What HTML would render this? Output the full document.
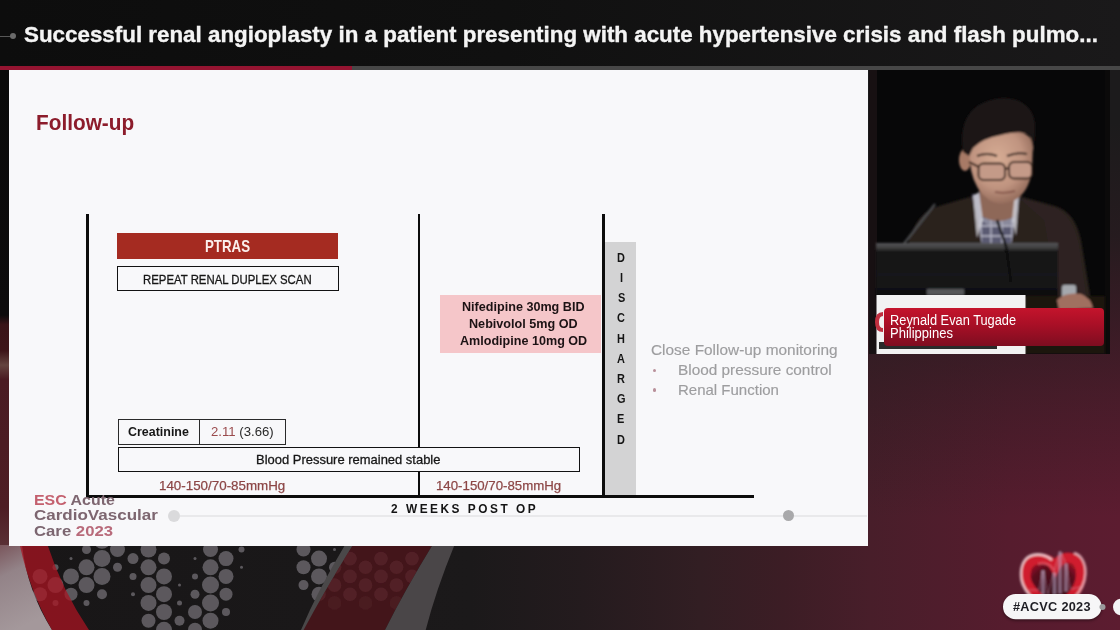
<!DOCTYPE html>
<html><head><meta charset="utf-8">
<style>
*{margin:0;padding:0;box-sizing:border-box}
html,body{width:1120px;height:630px;overflow:hidden;background:#1b1a1b;font-family:"Liberation Sans",sans-serif}
.a{position:absolute}
.t{position:absolute;white-space:nowrap;transform-origin:0 0;font-family:"Liberation Sans",sans-serif}
#top{left:0;top:0;width:1120px;height:66px;background:linear-gradient(90deg,#0d0d0d 0%,#101010 45%,#1a191a 100%)}
#prog{left:0;top:66px;width:1120px;height:4px;background:#474747}
#progr{left:0;top:66px;width:352px;height:4px;background:#951431}
#slide{left:8.8px;top:70px;width:858.8px;height:475.8px;background:#f8f8fa}
.vl{position:absolute;width:2.6px;background:#0c0c0c}
</style></head>
<body>
<svg class="a" style="left:0;top:0" width="1120" height="630" viewBox="0 0 1120 630">
 <defs>
  <linearGradient id="gh" x1="0" y1="0" x2="1" y2="0">
   <stop offset="0" stop-color="#181617"/><stop offset="0.42" stop-color="#1b191a"/>
   <stop offset="0.52" stop-color="#241b1e"/><stop offset="0.625" stop-color="#321e23"/><stop offset="0.7" stop-color="#3c1d25"/>
   <stop offset="0.777" stop-color="#481e2a"/><stop offset="0.9" stop-color="#561c2e"/><stop offset="1" stop-color="#5c1c30"/>
  </linearGradient>
  <linearGradient id="gv" x1="0" y1="0" x2="0" y2="1">
   <stop offset="0.1" stop-color="#1c1b1c" stop-opacity="1"/><stop offset="0.3" stop-color="#1c1b1c" stop-opacity="0.85"/>
   <stop offset="0.58" stop-color="#1c1b1c" stop-opacity="0.32"/><stop offset="0.8" stop-color="#1c1b1c" stop-opacity="0"/>
  </linearGradient>
  <linearGradient id="gl" x1="0" y1="0" x2="0" y2="1">
   <stop offset="0" stop-color="#0a0a0a"/><stop offset="0.515" stop-color="#0d0b0c"/><stop offset="0.535" stop-color="#3a1418"/>
   <stop offset="0.59" stop-color="#3e1519"/><stop offset="0.62" stop-color="#64443f"/><stop offset="0.65" stop-color="#4a1b22"/>
   <stop offset="0.92" stop-color="#4e1d24"/><stop offset="1" stop-color="#5a3035"/>
  </linearGradient>
  <linearGradient id="glight" x1="0" y1="0" x2="0.3" y2="1">
   <stop offset="0" stop-color="#7a565c"/><stop offset="0.35" stop-color="#938388"/><stop offset="1" stop-color="#a4989b"/>
  </linearGradient>
  <filter id="bl" x="-10%" y="-10%" width="120%" height="120%"><feGaussianBlur stdDeviation="0.6"/></filter>
  <clipPath id="band2"><path d="M352.8 545 L432.5 545 Q405 590 385 630 L303.6 630 Q325 590 352.8 545Z"/></clipPath>
 </defs>
 <rect x="0" y="66" width="1120" height="564" fill="url(#gh)"/>
 <rect x="440" y="66" width="680" height="564" fill="url(#gv)"/>
 <rect x="0" y="70" width="10" height="476" fill="url(#gl)"/>
 <!-- bottom left light area -->
 
 <g fill="#5b595d" filter="url(#bl)"><circle cx="40.0" cy="576.4" r="7.5"/><circle cx="40.0" cy="594.2" r="7"/><circle cx="55.5" cy="567.3" r="3"/><circle cx="55.5" cy="585.1" r="8"/><circle cx="55.5" cy="602.9" r="3"/><circle cx="71.0" cy="558.6" r="1.5"/><circle cx="71.0" cy="576.4" r="8"/><circle cx="71.0" cy="594.2" r="6.5"/><circle cx="86.5" cy="549.5" r="4.5"/><circle cx="86.5" cy="567.3" r="8"/><circle cx="86.5" cy="585.1" r="8"/><circle cx="86.5" cy="602.9" r="3"/><circle cx="102.0" cy="540.8" r="8"/><circle cx="102.0" cy="558.6" r="8.5"/><circle cx="102.0" cy="576.4" r="8.5"/><circle cx="102.0" cy="594.2" r="5"/><circle cx="117.5" cy="549.5" r="7.5"/><circle cx="117.5" cy="567.3" r="4.5"/><circle cx="133.0" cy="558.6" r="5.5"/><circle cx="133.0" cy="576.4" r="3.5"/><circle cx="133.0" cy="594.2" r="2"/><circle cx="148.5" cy="549.5" r="8"/><circle cx="148.5" cy="567.3" r="8"/><circle cx="148.5" cy="585.1" r="8"/><circle cx="148.5" cy="602.9" r="8"/><circle cx="148.5" cy="620.7" r="7"/><circle cx="164.0" cy="558.6" r="6"/><circle cx="164.0" cy="576.4" r="8"/><circle cx="164.0" cy="594.2" r="8"/><circle cx="164.0" cy="612.0" r="8"/><circle cx="164.0" cy="629.8" r="8"/><circle cx="179.5" cy="585.1" r="1.5"/><circle cx="179.5" cy="602.9" r="2.5"/><circle cx="179.5" cy="620.7" r="5"/><circle cx="195.0" cy="558.6" r="1.5"/><circle cx="195.0" cy="576.4" r="3"/><circle cx="195.0" cy="594.2" r="4.5"/><circle cx="195.0" cy="612.0" r="7"/><circle cx="195.0" cy="629.8" r="7"/><circle cx="210.5" cy="549.5" r="7.5"/><circle cx="210.5" cy="567.3" r="8"/><circle cx="210.5" cy="585.1" r="8.5"/><circle cx="210.5" cy="602.9" r="8.5"/><circle cx="210.5" cy="620.7" r="8"/><circle cx="226.0" cy="558.6" r="7.5"/><circle cx="226.0" cy="576.4" r="7.5"/><circle cx="226.0" cy="594.2" r="6.5"/><circle cx="226.0" cy="612.0" r="4"/><circle cx="241.5" cy="549.5" r="3"/><circle cx="241.5" cy="567.3" r="1.5"/><circle cx="303.5" cy="549.5" r="7"/><circle cx="303.5" cy="567.3" r="7"/><circle cx="303.5" cy="585.1" r="5"/><circle cx="319.0" cy="558.6" r="8"/><circle cx="319.0" cy="576.4" r="8"/><circle cx="319.0" cy="594.2" r="7.5"/><circle cx="334.5" cy="549.5" r="1.5"/><circle cx="334.5" cy="567.3" r="5.5"/><circle cx="334.5" cy="585.1" r="5.5"/></g>
 <path d="M0 545 L22 545 Q27 590 52 630 L0 630Z" fill="url(#glight)"/>
 <path d="M19.8 545 L47.6 545 Q62 590 89 630 L52 630 Q30 592 19.8 545Z" fill="#a81422" fill-opacity="0.75"/>
 <!-- band 2 -->
 <path d="M345 545 L356 545 Q327 590 305 630 L301 630 Q318 590 345 545Z" fill="#4a4849"/>
 <path d="M352.8 545 L432.5 545 Q405 590 385 630 L303.6 630 Q325 590 352.8 545Z" fill="#43151a"/>
 <g fill="#5e2a32" clip-path="url(#band2)" filter="url(#bl)"><circle cx="319.0" cy="558.6" r="6.8" fill-opacity="0.55"/><circle cx="319.0" cy="576.4" r="6.8" fill-opacity="0.55"/><circle cx="319.0" cy="594.2" r="6.8" fill-opacity="0.55"/><circle cx="334.5" cy="567.3" r="6.8" fill-opacity="0.55"/><circle cx="334.5" cy="585.1" r="6.8" fill-opacity="0.55"/><circle cx="334.5" cy="602.9" r="6.8" fill-opacity="0.3"/><circle cx="350.0" cy="558.6" r="6.8" fill-opacity="0.55"/><circle cx="350.0" cy="576.4" r="6.8" fill-opacity="0.55"/><circle cx="350.0" cy="594.2" r="6.8" fill-opacity="0.55"/><circle cx="365.5" cy="567.3" r="6.8" fill-opacity="0.55"/><circle cx="365.5" cy="585.1" r="6.8" fill-opacity="0.55"/><circle cx="365.5" cy="602.9" r="6.8" fill-opacity="0.3"/><circle cx="381.0" cy="558.6" r="6.8" fill-opacity="0.55"/><circle cx="381.0" cy="576.4" r="6.8" fill-opacity="0.55"/><circle cx="381.0" cy="594.2" r="6.8" fill-opacity="0.55"/><circle cx="396.5" cy="567.3" r="6.8" fill-opacity="0.55"/><circle cx="396.5" cy="585.1" r="6.8" fill-opacity="0.55"/><circle cx="396.5" cy="602.9" r="6.8" fill-opacity="0.3"/><circle cx="412.0" cy="558.6" r="6.8" fill-opacity="0.55"/><circle cx="412.0" cy="576.4" r="6.8" fill-opacity="0.55"/><circle cx="412.0" cy="594.2" r="6.8" fill-opacity="0.55"/><circle cx="427.5" cy="567.3" r="6.8" fill-opacity="0.55"/><circle cx="427.5" cy="585.1" r="6.8" fill-opacity="0.55"/><circle cx="427.5" cy="602.9" r="6.8" fill-opacity="0.3"/></g>
 <path d="M432.5 545 L454.5 545 Q436 590 425.7 630 L385 630 Q405 590 432.5 545Z" fill="#4a4648"/>
</svg>
<div id="top" class="a"></div>
<div class="a" style="left:0;top:35.8px;width:12px;height:1.1px;background:#575757"></div>
<div class="a" style="left:10.3px;top:32.8px;width:6.2px;height:6.2px;border-radius:50%;background:#6a6a6a"></div>
<div id="prog" class="a"></div>
<div id="progr" class="a"></div>
<div id="slide" class="a"></div>
<!-- slide shapes -->
<div class="vl" style="left:86.2px;top:214px;height:283px"></div>
<div class="vl" style="left:417.7px;top:214px;height:283px"></div>
<div class="vl" style="left:602.2px;top:214px;height:283px"></div>
<div class="a" style="left:86.2px;top:494.8px;width:667.8px;height:3px;background:#0c0c0c"></div>
<div class="a" style="left:117px;top:233.1px;width:221.2px;height:26.2px;background:#a52b21"></div>
<div class="a" style="left:116.5px;top:266.4px;width:222.3px;height:25px;border:1.8px solid #121212;background:#f8f8fa"></div>
<div class="a" style="left:440px;top:295px;width:161.4px;height:57.5px;background:#f5c6c9"></div>
<div class="a" style="left:604.5px;top:241.8px;width:31.8px;height:253.2px;background:#d3d3d4"></div>
<div class="a" style="left:118px;top:418.5px;width:167.6px;height:26.3px;border:1.3px solid #2a2a2a;background:#f8f8fa"></div>
<div class="a" style="left:199px;top:418.5px;width:1.3px;height:26.3px;background:#2a2a2a"></div>
<div class="a" style="left:118px;top:446.8px;width:462px;height:25.6px;border:1.7px solid #121212;background:#f8f8fa"></div>
<div class="a" style="left:652.5px;top:368.8px;width:3.4px;height:3.4px;border-radius:50%;background:#b9909a"></div>
<div class="a" style="left:652.5px;top:388.4px;width:3.4px;height:3.4px;border-radius:50%;background:#b9909a"></div>
<div class="a" style="left:180px;top:515.3px;width:687px;height:1.4px;background:#e9e9eb"></div>
<div class="a" style="left:168px;top:510px;width:12px;height:12px;border-radius:50%;background:#dadadc"></div>
<div class="a" style="left:782.5px;top:510.3px;width:11px;height:11px;border-radius:50%;background:#a9a9ab"></div>
<svg class="a" style="left:869px;top:70px" width="241" height="284" viewBox="0 0 241 284">
 <defs>
  <radialGradient id="face" cx="0.45" cy="0.4" r="0.65">
   <stop offset="0" stop-color="#d6ac94"/><stop offset="0.6" stop-color="#c09480"/><stop offset="1" stop-color="#8e6656"/>
  </radialGradient>
  <linearGradient id="pod" x1="0" y1="0" x2="0" y2="1">
   <stop offset="0" stop-color="#58585a"/><stop offset="0.1" stop-color="#3a3a3b"/><stop offset="0.16" stop-color="#151516"/><stop offset="0.6" stop-color="#19191a"/><stop offset="1" stop-color="#0d0d0e"/>
  </linearGradient>
  <filter id="vb" x="-5%" y="-5%" width="110%" height="110%"><feGaussianBlur stdDeviation="0.9"/></filter>
 </defs>
 <rect width="241" height="284" fill="#070708"/>
 <rect width="8" height="284" fill="#171012"/>
 <rect x="236" width="5" height="284" fill="#0b0a0a"/>
 <g filter="url(#vb)">
 <!-- suit -->
 <path d="M40 170 Q48 142 70 136 L104 126 L150 126 L186 136 Q206 142 212 170 L222 230 L224 284 L30 284 Z" fill="#2a211f"/>
 <path d="M150 128 L186 138 Q204 146 210 175 L218 232 L190 232 L175 150Z" fill="#30262390"/>
 <!-- shirt -->
 <path d="M103 124 L151 124 L149 176 L106 176Z" fill="#5a5a72"/>
 <g stroke="#c8c8d6" stroke-width="1.4" opacity="0.85">
  <path d="M108 156 L146 156"/><path d="M107 166 L148 166"/><path d="M112 150 L112 176"/><path d="M122 150 L122 176"/><path d="M133 150 L133 176"/><path d="M143 150 L143 176"/>
 </g>
 <path d="M110 148 Q122 160 130 156 Q140 160 148 148" fill="#a8a8b8" opacity="0.6"/>
 <path d="M104 124 L113 176 L100 176Z" fill="#2a211f"/>
 <path d="M150 124 L142 176 L156 176Z" fill="#2a211f"/>
 <!-- neck -->
 <path d="M110 118 L148 118 L146 146 Q130 156 112 146Z" fill="#8e6858"/>
 <path d="M104 126 L110 122 L114 150 L108 168Z" fill="#d4d4dc" opacity="0.8"/>
 <path d="M150 126 L146 122 L143 150 L147 166Z" fill="#d4d4dc" opacity="0.8"/>
 <!-- ear -->
 <ellipse cx="96" cy="90" rx="6" ry="11" fill="#a87a66"/>
 <!-- face -->
 <path d="M99 72 Q100 60 130 58 Q162 60 164 74 L163 100 Q160 122 146 130 Q132 137 120 130 Q106 120 102 100Z" fill="url(#face)"/>
 <!-- hair -->
 <path d="M94 82 Q89 50 108 36 Q128 24 148 30 Q168 38 166 62 L165 82 L161 64 Q150 60 132 65 Q114 68 104 78 L100 86Z" fill="#1b1615"/>
 <!-- eyebrows -->
 <path d="M108 86 Q118 82 128 86" stroke="#3a2a24" stroke-width="2" fill="none"/>
 <path d="M138 86 Q148 82 158 84" stroke="#3a2a24" stroke-width="2" fill="none"/>
 <!-- glasses -->
 <rect x="109.5" y="93.5" width="26.5" height="16.5" rx="5" fill="#c49a88" stroke="#3e2a20" stroke-width="2"/>
 <rect x="140" y="92" width="23" height="16.5" rx="5" fill="#c49a88" stroke="#3e2a20" stroke-width="2"/>
 <path d="M136 99 L140 98" stroke="#3e2a20" stroke-width="2"/>
 <path d="M110 97 L100 92" stroke="#3e2a20" stroke-width="2"/>
 <!-- mouth -->
 <path d="M126 122 Q136 124 146 121" stroke="#7a4a40" stroke-width="1.6" fill="none"/>
 <!-- mic arm left -->
 <path d="M66 134 L30 180 L10 208" stroke="#4a4b4d" stroke-width="2.2" fill="none"/>
 <!-- podium -->
 <rect x="7" y="173" width="182" height="54" fill="url(#pod)"/>
 <path d="M128 150 L137 176 L142 212" stroke="#0a0a0a" stroke-width="2.5" fill="none"/>
 <rect x="58" y="219" width="37" height="6" fill="#555658"/>
 <!-- right lower dark -->
 <rect x="157" y="226" width="79" height="58" fill="#1a1210"/>
 <!-- hand and phone -->
 <rect x="193" y="215" width="14" height="14" rx="2" fill="#a4a8ae"/>
 <path d="M188 230 Q196 222 212 224 Q222 228 224 238 L190 240Z" fill="#a07060"/>
 </g>
 <!-- sign -->
 <rect x="7.5" y="225" width="149" height="60" fill="#f2f2f2"/>
 <path d="M14 244 Q8 244 8 252 Q8 260 14 260" stroke="#c03040" stroke-width="4" fill="none"/>
 <g fill="#2a2a2a"><rect x="10" y="272" width="118" height="7"/></g>
</svg>
<div class="a" style="left:884px;top:308.1px;width:220px;height:38px;border-radius:4px;background:linear-gradient(180deg,#c4142c 0%,#a80f26 45%,#7e0d20 100%)"></div>

<svg class="a" style="left:1000px;top:540px" width="120" height="90" viewBox="0 0 120 90">
 <defs>
  <radialGradient id="hin" cx="0.5" cy="0.6" r="0.6">
   <stop offset="0" stop-color="#3a0818"/><stop offset="0.7" stop-color="#5a0c1e"/><stop offset="1" stop-color="#a01426"/>
  </radialGradient>
  <filter id="hb" x="-10%" y="-10%" width="120%" height="120%"><feGaussianBlur stdDeviation="0.9"/></filter>
  <filter id="sh" x="-20%" y="-40%" width="140%" height="180%"><feGaussianBlur stdDeviation="1.5"/></filter>
 </defs>
 <g filter="url(#hb)">
 <path d="M55 27 C50 18 42 18.5 36 19.6 C28 21 25.5 28 25.5 36 C25.5 46 35 56 55 72 C75 56 81 46 81 34 C81 24 76 17.4 68 17.4 C62 17.4 58 21 55 27Z" fill="url(#hin)" stroke="#d01e2e" stroke-width="10"/>
 <path d="M52 20 C46 14 36 13 30 16 C22 20 20 30 21.5 40 C23 48 28 54 34 60" stroke="#f4d8dc" stroke-width="2.6" fill="none" opacity="0.85"/>
 <path d="M74 13 C82 15 86 24 85.5 34 C85 44 80 52 74 58" stroke="#f0c0c8" stroke-width="2.4" fill="none" opacity="0.8"/>
 <path d="M38 24 C44 22 50 24 54 30" stroke="#f08090" stroke-width="2" fill="none" opacity="0.5"/>
 <g stroke="#c4b4d4" stroke-width="3.4" stroke-dasharray="1.2 0.8" fill="none" opacity="0.75">
  <path d="M43 31 L43 54"/><path d="M54.5 33 L54.5 54"/><path d="M60 12 L60 54"/><path d="M66 24 L66 51"/>
 </g>
 <path d="M28 50 L39 50 L43 30 L48 54 L54 32 L60 11 L66 24 L70 49 L82 47" stroke="#e0d0e8" stroke-width="1" fill="none" opacity="0.35"/>
 </g>
 <rect x="3" y="55.5" width="98.5" height="25" rx="12.5" fill="#000" opacity="0.45" filter="url(#sh)"/>
 <rect x="3" y="54" width="98.5" height="25.3" rx="12.6" fill="#f6f6f7"/>
 <circle cx="102.5" cy="67" r="3" fill="#9a9a9c"/>
 <rect x="113" y="58.6" width="20" height="16.8" rx="8.4" fill="#f4f4f5"/>
</svg>

<div class="t" style="left:23.65px;top:23.54px;font-size:21.59px;line-height:21.59px;font-weight:bold;color:#f4f4f4;transform:scaleX(1.0365);-webkit-text-stroke:0.35px currentColor;">Successful renal angioplasty in a patient presenting with acute hypertensive crisis and flash pulmo...</div>
<div class="t" style="left:35.60px;top:111.73px;font-size:22.32px;line-height:22.32px;font-weight:bold;color:#8c1c2b;transform:scaleX(0.9318);">Follow-up</div>
<div class="t" style="left:204.97px;top:238.50px;font-size:15.65px;line-height:15.65px;font-weight:bold;color:#fbefec;transform:scaleX(0.8498);">PTRAS</div>
<div class="t" style="left:143.01px;top:272.57px;font-size:13.33px;line-height:13.33px;font-weight:normal;color:#161616;transform:scaleX(0.8537);-webkit-text-stroke:0.3px currentColor;">REPEAT RENAL DUPLEX SCAN</div>
<div class="t" style="left:462.11px;top:300.27px;font-size:13.33px;line-height:13.33px;font-weight:bold;color:#1c1214;transform:scaleX(0.9451);">Nifedipine 30mg BID</div>
<div class="t" style="left:468.91px;top:317.27px;font-size:13.33px;line-height:13.33px;font-weight:bold;color:#1c1214;transform:scaleX(0.9468);">Nebivolol 5mg OD</div>
<div class="t" style="left:459.80px;top:334.47px;font-size:13.33px;line-height:13.33px;font-weight:bold;color:#1c1214;transform:scaleX(0.9436);">Amlodipine 10mg OD</div>
<div class="t" style="left:651.08px;top:343.33px;font-size:14.20px;line-height:14.20px;font-weight:normal;color:#9d9d9f;transform:scaleX(1.0854);-webkit-text-stroke:0.15px currentColor;">Close Follow-up monitoring</div>
<div class="t" style="left:677.80px;top:363.43px;font-size:14.20px;line-height:14.20px;font-weight:normal;color:#9d9d9f;transform:scaleX(1.0831);-webkit-text-stroke:0.15px currentColor;">Blood pressure control</div>
<div class="t" style="left:677.83px;top:383.33px;font-size:14.20px;line-height:14.20px;font-weight:normal;color:#9d9d9f;transform:scaleX(1.0574);-webkit-text-stroke:0.15px currentColor;">Renal Function</div>
<div class="t" style="left:128.31px;top:425.34px;font-size:13.48px;line-height:13.48px;font-weight:bold;color:#161616;transform:scaleX(0.9240);">Creatinine</div>
<div class="t" style="left:211.18px;top:425.34px;font-size:13.48px;line-height:13.48px;font-weight:normal;color:#2a2a2a;transform:scaleX(0.9768);"><span style="color:#9a4a4c">2.11</span> (3.66)</div>
<div class="t" style="left:256.49px;top:452.97px;font-size:13.33px;line-height:13.33px;font-weight:normal;color:#161616;transform:scaleX(0.9726);-webkit-text-stroke:0.3px currentColor;">Blood Pressure remained stable</div>
<div class="t" style="left:159.36px;top:478.94px;font-size:13.48px;line-height:13.48px;font-weight:normal;color:#8c4646;transform:scaleX(0.9923);-webkit-text-stroke:0.25px currentColor;">140-150/70-85mmHg</div>
<div class="t" style="left:436.17px;top:478.94px;font-size:13.48px;line-height:13.48px;font-weight:normal;color:#8c4646;transform:scaleX(0.9836);-webkit-text-stroke:0.25px currentColor;">140-150/70-85mmHg</div>
<div class="t" style="left:390.83px;top:502.74px;font-size:12.90px;line-height:12.90px;font-weight:bold;color:#141414;letter-spacing:2.735px;transform:scaleX(0.9200);">2 WEEKS POST OP</div>
<div class="t" style="left:890.00px;top:313.77px;font-size:13.91px;line-height:13.91px;font-weight:normal;color:#ffffff;transform:scaleX(0.9217);">Reynald Evan Tugade</div>
<div class="t" style="left:889.98px;top:327.27px;font-size:13.91px;line-height:13.91px;font-weight:normal;color:#ffffff;transform:scaleX(0.9351);">Philippines</div>
<div class="t" style="left:1013.40px;top:599.54px;font-size:13.48px;line-height:13.48px;font-weight:bold;color:#1e1e24;letter-spacing:0.300px;transform:scaleX(0.9452);">#ACVC 2023</div>
<div class="t" style="left:33.90px;top:492.44px;font-size:15.36px;line-height:15.36px;font-weight:bold;color:#7e6670;transform:scaleX(1.0363);"><span style="color:#c4606e">ESC</span> <span style="color:#7e6670">Acute</span></div>
<div class="t" style="left:34.37px;top:507.44px;font-size:15.36px;line-height:15.36px;font-weight:bold;color:#7d6670;transform:scaleX(1.1074);">CardioVascular</div>
<div class="t" style="left:34.38px;top:523.04px;font-size:15.36px;line-height:15.36px;font-weight:bold;color:#7c6670;transform:scaleX(1.0886);"><span style="color:#7c6670">Care</span> <span style="color:#b86a7a">2023</span></div>
<div class="t" style="left:617.09px;top:251.85px;font-size:12.17px;line-height:12.17px;font-weight:bold;color:#141414;transform:scaleX(0.9000);">D</div>
<div class="t" style="left:619.66px;top:272.05px;font-size:12.17px;line-height:12.17px;font-weight:bold;color:#141414;transform:scaleX(0.9000);">I</div>
<div class="t" style="left:617.60px;top:292.25px;font-size:12.17px;line-height:12.17px;font-weight:bold;color:#141414;transform:scaleX(0.9000);">S</div>
<div class="t" style="left:617.18px;top:312.45px;font-size:12.17px;line-height:12.17px;font-weight:bold;color:#141414;transform:scaleX(0.9000);">C</div>
<div class="t" style="left:617.26px;top:332.65px;font-size:12.17px;line-height:12.17px;font-weight:bold;color:#141414;transform:scaleX(0.9000);">H</div>
<div class="t" style="left:617.26px;top:352.85px;font-size:12.17px;line-height:12.17px;font-weight:bold;color:#141414;transform:scaleX(0.9000);">A</div>
<div class="t" style="left:617.01px;top:373.05px;font-size:12.17px;line-height:12.17px;font-weight:bold;color:#141414;transform:scaleX(0.9000);">R</div>
<div class="t" style="left:617.09px;top:393.25px;font-size:12.17px;line-height:12.17px;font-weight:bold;color:#141414;transform:scaleX(0.9000);">G</div>
<div class="t" style="left:617.35px;top:413.45px;font-size:12.17px;line-height:12.17px;font-weight:bold;color:#141414;transform:scaleX(0.9000);">E</div>
<div class="t" style="left:617.09px;top:433.65px;font-size:12.17px;line-height:12.17px;font-weight:bold;color:#141414;transform:scaleX(0.9000);">D</div>
</body></html>
